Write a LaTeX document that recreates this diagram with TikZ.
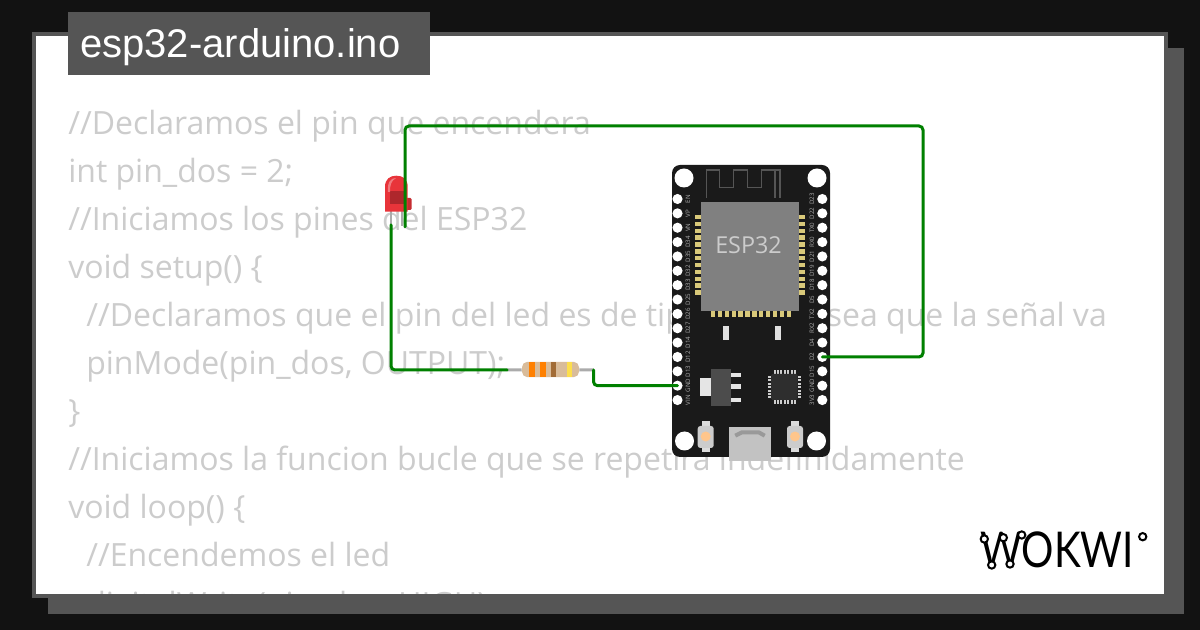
\documentclass[tikz,border=0pt]{standalone}
\usepackage{fontspec}
\setmainfont{Open Sans}
\newfontfamily\titlefont{Liberation Sans}
\newfontfamily\logofont{Lato}
\definecolor{pagedark}{HTML}{121212}
\definecolor{framegray}{HTML}{555555}
\definecolor{codegray}{HTML}{CCCCCC}
\definecolor{boardblack}{HTML}{1A1A1A}
\definecolor{chipgray}{HTML}{808080}
\definecolor{padyellow}{HTML}{D9C97A}
\definecolor{wiregreen}{HTML}{008000}
\definecolor{ledred}{HTML}{E8343A}
\definecolor{leaddgray}{HTML}{ABABAB}
\definecolor{resbody}{HTML}{D9BC9A}
\tikzset{
  x=0.75pt,y=-0.75pt,
  code/.style={anchor=base west, inner sep=0pt, text=codegray, font=\fontsize{24}{24}\selectfont},
  wire/.style={draw=wiregreen, line width=2.25pt, rounded corners=3pt, line cap=round},
  pinhole/.style={circle, fill=white, inner sep=0pt, minimum size=7.6pt},
  pinlabel/.style={rotate=90, inner sep=0pt, text=leaddgray, font=\fontsize{4.6}{5}\selectfont},
  lead/.style={draw=leaddgray, line width=2.25pt},
  ring/.style={circle, draw=black, fill=white, line width=1.5pt, inner sep=0pt, minimum size=5.5pt}
}
\begin{document}
\begin{tikzpicture}
        \useasboundingbox (0,0) rectangle (1200,630);
        \fill[pagedark] (0,0) rectangle (1200,630);
        \fill[framegray] (48,48) rectangle (1184,614);
        \fill[framegray] (32,32) rectangle (1168,598);
        \fill[white] (36,36) rectangle (1164,594);

        \begin{scope}
        \clip (36,36) rectangle (1164,594);
        \node[code] (line-1) at(68,135){//Declaramos el pin que encendera};
        \node[code] (line-2) at(68,183){int pin\_dos = 2;};
        \node[code] (line-3) at(68,231){//Iniciamos los pines del ESP32};
        \node[code] (line-4) at(68,279){void setup() \{};
        \node[code] (line-5) at(86,327){//Declaramos que el pin del led es de tipo salida osea que la señal va};
        \node[code] (line-6) at(86,375){pinMode(pin\_dos, OUTPUT);};
        \node[code] (line-7) at(68,423){\}};
        \node[code] (line-8) at(68,471){//Iniciamos la funcion bucle que se repetira indefinidamente};
        \node[code] (line-9) at(68,519){void loop() \{};
        \node[code] (line-10) at(86,567){//Encendemos el led};
        \node[code] (line-11) at(86,615){digitalWrite(pin\_dos, HIGH);};
        \end{scope}

        \fill[framegray] (68,12) rectangle (430,75);
        \node[anchor=base west, inner sep=0pt, text=white, font=\titlefont\fontsize{30}{30}\selectfont] (title) at(80,58){esp32-arduino.ino};

        \fill[boardblack, rounded corners=6pt] (672,165) rectangle (830,457);
        \foreach \x/\y in {684/178, 817/178, 684.5/441, 816.5/441}
          \fill[white] (\x,\y) circle (9.5);

        \draw[framegray, line width=1pt] (706.7,198) -- (706.7,170) -- (719.3,170) -- (719.3,187.3) -- (733.3,187.3) -- (733.3,170) -- (747.3,170) -- (747.3,187.3) -- (761.7,187.3) -- (761.7,170) -- (780,170) -- (780,198);
        \draw[framegray, line width=1pt] (775,170) -- (775,198);

        \foreach \i in {0,...,11} {
          \fill[padyellow] (694.7,214.8+6.87*\i) rectangle (701,219.2+6.87*\i);
          \fill[padyellow] (799,214.8+6.87*\i) rectangle (805,219.2+6.87*\i);
          \fill[padyellow] (711+6.87*\i,311) rectangle (715.4+6.87*\i,317.5);
        }
        \fill[chipgray] (701,201.7) rectangle (799,311);
        \node[text=codegray, font=\fontsize{17.5}{18}\selectfont, inner sep=0pt] (chip-label) at(748.5,245.5){ESP32};

        \foreach \name [count=\i from 0] in {EN,VP,VN,D34,D35,D32,D33,D25,D26,D27,D14,D12,D13,GND,VIN} {
          \node[pinhole] (left-\name) at(677.5,199+14.36*\i){};
          \node[pinlabel] (left-label-\name) at(688,199+14.36*\i){\name};
        }
        \foreach \name [count=\i from 0] in {D23,D22,TX0,RX0,D21,D19,D18,D5,TX2,RX2,D4,D2,D15,GND,3V3} {
          \node[pinhole] (right-\name) at(822.3,199+14.36*\i){};
          \node[pinlabel] (right-label-\name) at(812,199+14.36*\i){\name};
        }

        \fill[codegray!60!white] (723.3,326) rectangle (729.3,340);
        \fill[codegray!60!white] (775,326) rectangle (781,340);

        \fill[white!90!black] (700,378) rectangle (711,395.7);
        \fill[white!90!black] (731,372.7) rectangle (741,377.3);
        \fill[white!90!black] (731,384.3) rectangle (741,389);
        \fill[white!90!black] (731,397.7) rectangle (741,402.3);
        \fill[black!70] (710.7,369.3) rectangle (731.3,406);

        \foreach \i in {0,...,6} {
          \fill[codegray] (773.5+3.4*\i,370) rectangle (775.5+3.4*\i,374);
          \fill[codegray] (773.5+3.4*\i,400) rectangle (775.5+3.4*\i,404);
          \fill[codegray] (767.5,376+3.4*\i) rectangle (771,378+3.4*\i);
          \fill[codegray] (797.5,376+3.4*\i) rectangle (801,378+3.4*\i);
        }
        \fill[black!82, rounded corners=1pt] (771,374) rectangle (797.5,400);

        \foreach \x in {705.7,795} {
          \fill[codegray!70!white] (\x-4,421.5) rectangle (\x+4,452);
          \fill[codegray, rounded corners=2pt] (\x-8,426) rectangle (\x+8,448);
          \fill[orange!45!white] (\x,436.5) circle (5);
        }

        \fill[codegray!95!black] (729,427.5) rectangle (770.5,461);
        \draw[black!40, line width=3pt, line join=round] (735.3,435.7) -- (742,432.3) -- (758.7,432.3) -- (764.7,435.7);

        \draw[leaddgray, line width=1.8pt] (390.7,205) -- (390.7,226);
        \draw[leaddgray, line width=1.8pt] (401.7,205) -- (401.7,226);
        \fill[ledred!85!black, rounded corners=1pt] (385,198) rectangle (411.7,210);
        \fill[ledred] (385,211.7) -- (385,187) .. controls (385,179) and (390,175.7) .. (396.3,175.7) .. controls (403,175.7) and (407.7,179) .. (407.7,187) -- (407.7,211.7) -- cycle;
        \fill[ledred!75!black] (390,191) rectangle (405,204);
        \fill[white, opacity=0.35] (388,192) .. controls (387,182) and (391,178) .. (396,178) .. controls (391,181) and (390,185) .. (390,192) -- cycle;
        \coordinate (led-cathode) at(391,225);
        \coordinate (led-anode) at(405,227);

        \coordinate (resistor-left) at(507,370);
        \coordinate (resistor-right) at(593.5,370);
        \node[rectangle, rounded corners=4pt, fill=resbody, inner sep=0pt, minimum width=42.75pt, minimum height=11.5pt] (resistor) at(550.5,369.5){};
        \draw[lead] (resistor-left) -- (resistor);
        \draw[lead] (resistor) -- (resistor-right);
        \fill[orange] (529,361.7) rectangle (535,377.3);
        \fill[orange] (540,361.7) rectangle (545.7,377.3);
        \fill[brown!85!black] (550.7,361.7) rectangle (556,377.3);
        \fill[yellow!70!orange!70!white] (566.7,361.7) rectangle (572.3,377.3);

        \coordinate (wire-corner) at(923,126);
        \draw[wire] (right-D2.center) -| (wire-corner) -| (led-anode);
        \draw[wire] (led-cathode) |- (resistor-left);
        \draw[wire] (resistor-right) |- (left-GND.center);

        \node[anchor=base west, inner sep=0pt, xscale=0.82, text=black, font=\logofont\fontsize{37}{37}\selectfont] (logo) at(980,568){WOKWI};
        \node[ring] (logo-ring-a) at(984.3,539){};
        \node[ring] (logo-ring-b) at(1003.3,537.7){};
        \node[ring] (logo-ring-c) at(1021.7,535){};
        \node[ring] (logo-ring-d) at(991.7,565){};
        \node[ring] (logo-ring-e) at(1010,564){};
        \node[ring] (logo-ring-f) at(1142.7,536.7){};
\end{tikzpicture}
\end{document}
